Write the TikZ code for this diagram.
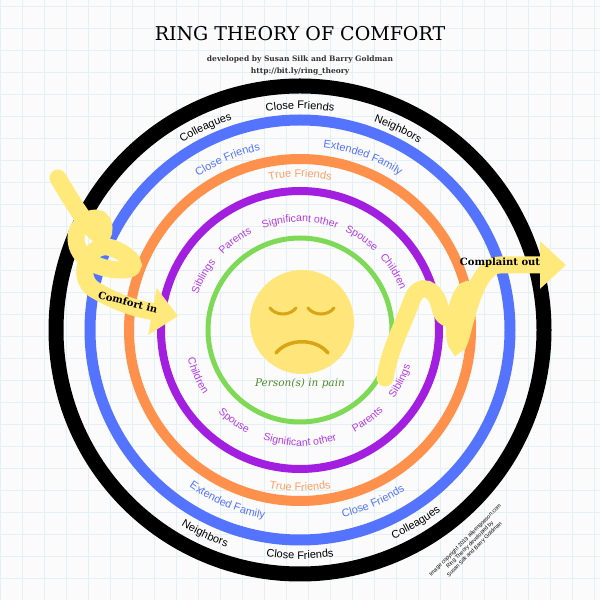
\documentclass[tikz,border=0pt]{standalone}
\usepackage{fontspec}
\setsansfont{Liberation Sans}
\newfontfamily\slabfont{DejaVu Serif}
\usetikzlibrary{calc,decorations.text,arrows.meta}
\definecolor{ringblue}{HTML}{5474FF}
\definecolor{ringorange}{HTML}{FF914D}
\definecolor{ringpurple}{HTML}{A21FE0}
\definecolor{ringgreen}{HTML}{7ED957}
\definecolor{txtorange}{HTML}{FF9F66}
\definecolor{txtpurple}{HTML}{B23BE6}
\definecolor{txtgreen}{HTML}{4E8A2E}
\definecolor{ribbon}{HTML}{FFE97A}
\definecolor{smiley}{HTML}{FFE57A}
\definecolor{frown}{HTML}{D9A514}
\definecolor{gridline}{HTML}{E3F1F4}
\newcommand\ringfont{\sffamily\fontsize{11}{13}\selectfont}
\newcommand\famfont{\sffamily\fontsize{10.5}{12}\selectfont}
% text on an arc, top half and bottom half
\newcommand\arctop[5]{\path[decorate,decoration={text along path,text align=center,
  text={|#5\color{#1}|#4}}] ($(ctr)+({#3+70}:#2)$) arc[start angle={#3+70},end angle={#3-70},radius=#2];}
\newcommand\arcbot[5]{\path[decorate,decoration={text along path,text align=center,
  text={|#5\color{#1}|#4}}] ($(ctr)+({#3-70}:#2)$) arc[start angle={#3-70},end angle={#3+70},radius=#2];}
\begin{document}
\begin{tikzpicture}[x=1pt,y=1pt,
  ring/.style={draw=#1,fill=none},
  ribbonline/.style={draw=ribbon,line width=17pt,line cap=round,
    -{Triangle[length=26pt,width=46pt]}},
  ribbontext/.style={font=\slabfont\bfseries\fontsize{10}{12}\selectfont,text=black}]
  \fill[white!97!gray] (0,0) rectangle (600,600);
  \useasboundingbox (0,0) rectangle (600,600);
  \draw[gridline,step=22] (0,0) grid (600,600);

  \coordinate (ctr) at (300,270);

  % title
  \node[font=\slabfont\fontsize{19}{23}\selectfont] (title) at (300,566) {RING THEORY OF COMFORT};
  \node[font=\slabfont\bfseries\fontsize{7.5}{9}\selectfont,text=black!80] (dev) at (300,541) {developed by Susan Silk and Barry Goldman};
  \node[font=\slabfont\bfseries\fontsize{7.5}{9}\selectfont,text=black!80] (url) at (300,528) {http://bit.ly/ring\_theory};

  % rings
  \draw[ring=black,line width=15] (ctr) circle[radius=244];
  \draw[ring=ringblue,line width=11] (ctr) circle[radius=210];
  \draw[ring=ringorange,line width=10] (ctr) circle[radius=171];
  \draw[ring=ringpurple,line width=8] (ctr) circle[radius=139];
  \draw[ring=ringgreen,line width=5] (ctr) circle[radius=92];

  % ring labels
  \arctop{black}{221}{90}{Close Friends}{\ringfont}
  \arctop{black}{221}{115}{Colleagues}{\ringfont}
  \arctop{black}{221}{64}{Neighbors}{\ringfont}
  \arcbot{black}{229}{270}{Close Friends}{\ringfont}
  \arcbot{black}{229}{245}{Neighbors}{\ringfont}
  \arcbot{black}{229}{301}{Colleagues}{\ringfont}
  \arctop{ringblue}{184}{113}{Close Friends}{\ringfont}
  \arctop{ringblue}{184}{70}{Extended Family}{\ringfont}
  \arcbot{ringblue}{192}{247}{Extended Family}{\ringfont}
  \arcbot{ringblue}{192}{293}{Close Friends}{\ringfont}
  \arctop{txtorange}{153}{90}{True Friends}{\ringfont}
  \arcbot{txtorange}{161}{270}{True Friends}{\ringfont}
  \foreach \a/\w in {90/Significant other,126/Parents,151/Siblings,56/Spouse,32/Children}{
    \arctop{txtpurple}{108}{\a}{\w}{\famfont}
  }
  \foreach \a/\w in {270/Significant other,204/Children,234/Spouse,307/Parents,333/Siblings}{
    \arcbot{txtpurple}{116}{\a}{\w}{\famfont}
  }

  % face
  \fill[smiley] (302,278) circle[radius=52] coordinate (face);
  \draw[frown,line width=3,line cap=round] (270,292) .. controls (276,284) and (290,284) .. (296,292);
  \draw[frown,line width=3,line cap=round] (308,292) .. controls (314,284) and (328,284) .. (334,292);
  \draw[frown,line width=3.5,line cap=round] (276,247) .. controls (288,262) and (316,262) .. (328,247);
  \node[font=\slabfont\itshape\fontsize{10.5}{12}\selectfont,text=txtgreen] (pain) at (300,216) {Person(s) in pain};

  % ribbons
  \draw[ribbonline] (58,422) to[out=-60,in=-90] (104,372) to[out=90,in=90,looseness=1.6] (76,362)
    to[out=-90,in=180] (122,330) to[out=0,in=-20,looseness=2.2] (112,352)
    to[out=160,in=150,looseness=1.4] (95,310) to[out=-30,in=170] (178,284);
  \node[ribbontext,rotate=-14] (comfortin) at (128,298) {Comfort in};
  \draw[ribbonline] (385,222) to[out=80,in=-110] (412,300) to[out=70,in=100,looseness=1.8] (440,292)
    to[out=-80,in=-90,looseness=1.6] (470,300) to[out=90,in=100,looseness=1.8] (455,262)
    to[out=-80,in=180] (500,335) to[out=0,in=180] (566,335);
  \node[ribbontext] (complaintout) at (500,337) {Complaint out};

  % copyright
  \node[font=\sffamily\fontsize{5.5}{6.5}\selectfont,rotate=45,align=center] (copy) at (470,55)
    {Image copyright 2019 aileengoeson.com\\Ring Theory developed by\\Susan Silk and Barry Goldman};
\end{tikzpicture}
\end{document}
